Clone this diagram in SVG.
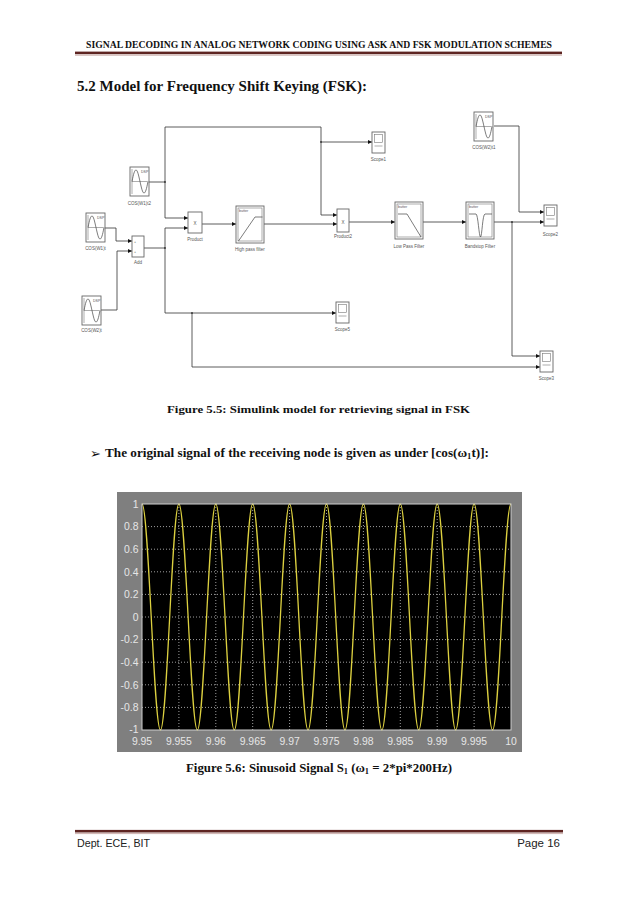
<svg xmlns="http://www.w3.org/2000/svg" xmlns:xlink="http://www.w3.org/1999/xlink" width="638" height="903" viewBox="0 0 638 903">
<style>
.ln{stroke:#333;stroke-width:0.8;fill:none}
.blk{fill:#fff;stroke:#666;stroke-width:0.9}
.in{fill:none;stroke:#777;stroke-width:0.6}
.cv{fill:none;stroke:#444;stroke-width:0.7}
.lbl{font-family:"Liberation Sans",Arial,sans-serif;font-size:4.5px;fill:#555;text-anchor:middle}
.tiny{font-family:"Liberation Sans",Arial,sans-serif;font-size:3.6px;fill:#555}
.doc{font-family:"Liberation Serif","Times New Roman",serif;font-weight:bold;fill:#111}
.foot{font-family:"Liberation Sans",Arial,sans-serif;font-size:11.5px;fill:#222}
.tick{font-family:"Liberation Sans",Arial,sans-serif;font-size:10.4px;fill:#e6e6e6}
.grid{stroke:#c8c8c8;stroke-width:0.8;stroke-dasharray:1 2;fill:none}
</style>
<defs>
<marker id="ar" markerWidth="5" markerHeight="5" refX="4.5" refY="2.5" orient="auto" markerUnits="userSpaceOnUse"><path d="M0,0.3 L4.5,2.5 L0,4.7z" fill="#111"/></marker>
<g id="sine">
<rect class="blk" x="0" y="0" width="19" height="29"/>
<line class="in" x1="2" y1="14.5" x2="17.5" y2="14.5"/>
<line class="in" x1="2" y1="2" x2="2" y2="27"/>
<path class="cv" d="M2,14.5 C3.5,7 4.5,3 6,3 C7.5,3 8.5,8 10,14.5 C11.5,21 12.5,26 14,26 C15.5,26 16.5,22 18,14.5"/>
<text class="tiny" x="11" y="6">DSP</text>
</g>
<g id="scope">
<rect class="blk" x="0" y="0" width="13" height="21"/>
<rect class="in" x="2.5" y="2.5" width="8" height="8"/>
<line class="in" x1="2.5" y1="14" x2="10.5" y2="14"/>
</g>
</defs>
<rect width="638" height="903" fill="#fff"/>

<!-- page header -->
<g id="header">
<text class="doc" x="86" y="48" font-size="9.8" textLength="466" lengthAdjust="spacingAndGlyphs">SIGNAL DECODING IN ANALOG NETWORK CODING USING ASK AND FSK MODULATION SCHEMES</text>
<rect x="75" y="51.6" width="487" height="2.6" fill="#5e2421"/>
<line x1="75" y1="55.2" x2="562" y2="55.2" stroke="#c09a98" stroke-width="0.8"/>
</g>
<text class="doc" x="77" y="91" font-size="15.5" textLength="290" lengthAdjust="spacingAndGlyphs">5.2 Model for Frequency Shift Keying (FSK):</text>

<!-- Simulink model: connectors -->
<g id="connectors">
<path class="ln" d="M149,182 H165"/>
<path class="ln" d="M165,182 V127 H321 V215 H337" marker-end="url(#ar)"/>
<path class="ln" d="M165,182 V218 H188" marker-end="url(#ar)"/>
<path class="ln" d="M321,142 H372" marker-end="url(#ar)"/>
<path class="ln" d="M144,248 H165"/>
<path class="ln" d="M165,248 V228 H188" marker-end="url(#ar)"/>
<path class="ln" d="M165,248 V313 H336" marker-end="url(#ar)"/>
<path class="ln" d="M192,313 V367 H540" marker-end="url(#ar)"/>
<path class="ln" d="M105,228 H116 V241 H132" marker-end="url(#ar)"/>
<path class="ln" d="M101,310 H117 V251 H132" marker-end="url(#ar)"/>
<path class="ln" d="M202,224 H236" marker-end="url(#ar)"/>
<path class="ln" d="M264,224 H337" marker-end="url(#ar)"/>
<path class="ln" d="M349,222 H395" marker-end="url(#ar)"/>
<path class="ln" d="M423,222 H466" marker-end="url(#ar)"/>
<path class="ln" d="M494,222 H544" marker-end="url(#ar)"/>
<path class="ln" d="M512,222 V356 H540" marker-end="url(#ar)"/>
<path class="ln" d="M494,126 H519 V212 H544" marker-end="url(#ar)"/>
<g fill="#333">
<circle cx="165" cy="182" r="0.9"/><circle cx="321" cy="142" r="0.9"/><circle cx="165" cy="248" r="0.9"/><circle cx="192" cy="313" r="0.9"/><circle cx="512" cy="222" r="0.9"/>
</g>
</g>

<!-- Simulink model: blocks -->
<g id="cosw1t2"><use xlink:href="#sine" x="130" y="167"/><text class="lbl" x="139.5" y="204.5">COS(W1)t2</text></g>
<g id="cosw1t"><use xlink:href="#sine" x="86" y="213"/><text class="lbl" x="95.5" y="249.5">COS(W1)t</text></g>
<g id="cosw2t"><use xlink:href="#sine" x="82" y="296"/><text class="lbl" x="91.5" y="331.5">COS(W2)t</text></g>
<g id="cosw2t1"><use xlink:href="#sine" x="474" y="112"/><text class="lbl" x="484" y="148.5">COS(W2)t1</text></g>
<g id="add">
<rect class="blk" x="132" y="236" width="12" height="21"/>
<text class="tiny" x="134" y="242.5">+</text><text class="tiny" x="134" y="252.5">+</text>
<text class="lbl" x="138" y="263.5">Add</text>
</g>
<g id="product">
<rect class="blk" x="188" y="212" width="14" height="21"/>
<text class="lbl" x="195" y="224.5" font-size="5">X</text>
<text class="lbl" x="195" y="240.5">Product</text>
</g>
<g id="hpf">
<rect class="blk" x="236" y="206" width="28" height="37"/>
<rect class="in" x="238" y="208" width="24" height="33"/>
<text class="tiny" x="239" y="212">butter</text>
<path class="cv" d="M238.5,241 L255,217 H262.5"/>
<text class="lbl" x="250" y="250.5">High pass filter</text>
</g>
<g id="product2">
<rect class="blk" x="337" y="209" width="12" height="23"/>
<text class="lbl" x="343" y="223.5" font-size="5">X</text>
<text class="lbl" x="343" y="238">Product2</text>
</g>
<g id="lpf">
<rect class="blk" x="395" y="202" width="28" height="37"/>
<rect class="in" x="397" y="204" width="24" height="33"/>
<text class="tiny" x="398" y="208">butter</text>
<path class="cv" d="M398,214 H407 L421,237"/>
<text class="lbl" x="409" y="247.5">Low Pass Filter</text>
</g>
<g id="bsf">
<rect class="blk" x="466" y="202" width="28" height="37"/>
<rect class="in" x="468" y="204" width="24" height="33"/>
<text class="tiny" x="469" y="208">butter</text>
<path class="cv" d="M469,214 H476 C478,214 479,237 480.5,237 C482,237 482.5,214 485,214 H492"/>
<text class="lbl" x="480" y="247.5">Bandstop Filter</text>
</g>
<g id="scope1"><use xlink:href="#scope" x="372" y="132"/><text class="lbl" x="378.5" y="160.5">Scope1</text></g>
<g id="scope2"><use xlink:href="#scope" x="544" y="205"/><text class="lbl" x="550.5" y="235.5">Scope2</text></g>
<g id="scope5"><use xlink:href="#scope" x="336" y="302"/><text class="lbl" x="342.5" y="330.5">Scope5</text></g>
<g id="scope3"><use xlink:href="#scope" x="540" y="351"/><text class="lbl" x="546.5" y="379.5">Scope3</text></g>

<text class="doc" x="167" y="413" font-size="11.3" textLength="303" lengthAdjust="spacingAndGlyphs">Figure 5.5: Simulink model for retrieving signal in FSK</text>

<text x="90" y="458" font-family="'DejaVu Sans',sans-serif" font-size="13" fill="#111">➢</text>
<text class="doc" x="105" y="457" font-size="11.5" textLength="384" lengthAdjust="spacingAndGlyphs">The original signal of the receiving node is given as under [cos(ω<tspan font-size="7.5" dy="2">1</tspan><tspan dy="-2">t)]:</tspan></text>

<!-- plot -->
<g id="plot">
<rect x="117" y="492" width="405" height="260" fill="#7f7f7f"/>
<rect x="142" y="504" width="369" height="226" fill="#000"/>
<path class="grid" d="M178.9,504V730M215.8,504V730M252.7,504V730M289.6,504V730M326.5,504V730M363.4,504V730M400.3,504V730M437.2,504V730M474.1,504V730"/>
<path class="grid" d="M142,526.6H511M142,549.2H511M142,571.8H511M142,594.4H511M142,617H511M142,639.6H511M142,662.2H511M142,684.8H511M142,707.4H511"/>
<path fill="none" stroke="#dcd040" stroke-width="1.3" d="M142,504 c3.335,0 6.217,55.1 9.225,113 c3.009,57.9 5.89,113 9.225,113 c3.335,0 6.217,-55.1 9.225,-113 c3.009,-57.9 5.89,-113 9.225,-113 c3.335,0 6.217,55.1 9.225,113 c3.009,57.9 5.89,113 9.225,113 c3.335,0 6.217,-55.1 9.225,-113 c3.009,-57.9 5.89,-113 9.225,-113 c3.335,0 6.217,55.1 9.225,113 c3.009,57.9 5.89,113 9.225,113 c3.335,0 6.217,-55.1 9.225,-113 c3.009,-57.9 5.89,-113 9.225,-113 c3.335,0 6.217,55.1 9.225,113 c3.009,57.9 5.89,113 9.225,113 c3.335,0 6.217,-55.1 9.225,-113 c3.009,-57.9 5.89,-113 9.225,-113 c3.335,0 6.217,55.1 9.225,113 c3.009,57.9 5.89,113 9.225,113 c3.335,0 6.217,-55.1 9.225,-113 c3.009,-57.9 5.89,-113 9.225,-113 c3.335,0 6.217,55.1 9.225,113 c3.009,57.9 5.89,113 9.225,113 c3.335,0 6.217,-55.1 9.225,-113 c3.009,-57.9 5.89,-113 9.225,-113 c3.335,0 6.217,55.1 9.225,113 c3.009,57.9 5.89,113 9.225,113 c3.335,0 6.217,-55.1 9.225,-113 c3.009,-57.9 5.89,-113 9.225,-113 c3.335,0 6.217,55.1 9.225,113 c3.009,57.9 5.89,113 9.225,113 c3.335,0 6.217,-55.1 9.225,-113 c3.009,-57.9 5.89,-113 9.225,-113 c3.335,0 6.217,55.1 9.225,113 c3.009,57.9 5.89,113 9.225,113 c3.335,0 6.217,-55.1 9.225,-113 c3.009,-57.9 5.89,-113 9.225,-113 c3.335,0 6.217,55.1 9.225,113 c3.009,57.9 5.89,113 9.225,113 c3.335,0 6.217,-55.1 9.225,-113 c3.009,-57.9 5.89,-113 9.225,-113"/>
<rect x="142" y="504" width="369" height="226" fill="none" stroke="#cfcfcf" stroke-width="1"/>
<g class="tick" text-anchor="end">
<text x="138.5" y="507.5">1</text>
<text x="138.5" y="530.3">0.8</text>
<text x="138.5" y="552.9">0.6</text>
<text x="138.5" y="575.5">0.4</text>
<text x="138.5" y="598.1">0.2</text>
<text x="138.5" y="620.7">0</text>
<text x="138.5" y="643.3">-0.2</text>
<text x="138.5" y="665.9">-0.4</text>
<text x="138.5" y="688.5">-0.6</text>
<text x="138.5" y="711.1">-0.8</text>
<text x="138.5" y="732.5">-1</text>
</g>
<g class="tick" text-anchor="middle">
<text x="142" y="744.5">9.95</text>
<text x="178.9" y="744.5">9.955</text>
<text x="215.8" y="744.5">9.96</text>
<text x="252.7" y="744.5">9.965</text>
<text x="289.6" y="744.5">9.97</text>
<text x="326.5" y="744.5">9.975</text>
<text x="363.4" y="744.5">9.98</text>
<text x="400.3" y="744.5">9.985</text>
<text x="437.2" y="744.5">9.99</text>
<text x="474.1" y="744.5">9.995</text>
<text x="511" y="744.5">10</text>
</g>
</g>

<text class="doc" x="186" y="772" font-size="11.5" textLength="266" lengthAdjust="spacingAndGlyphs">Figure 5.6: Sinusoid Signal S<tspan font-size="7.5" dy="2">1</tspan><tspan dy="-2"> (ω</tspan><tspan font-size="7.5" dy="2">1</tspan><tspan dy="-2"> = 2*pi*200Hz)</tspan></text>

<!-- footer -->
<g id="footer">
<rect x="75" y="829.9" width="488" height="2.6" fill="#5e2421"/>
<line x1="75" y1="833.6" x2="563" y2="833.6" stroke="#c09a98" stroke-width="0.8"/>
<text class="foot" x="77" y="847" textLength="73" lengthAdjust="spacingAndGlyphs">Dept. ECE, BIT</text>
<text class="foot" x="560" y="847" text-anchor="end">Page 16</text>
</g>
</svg>
